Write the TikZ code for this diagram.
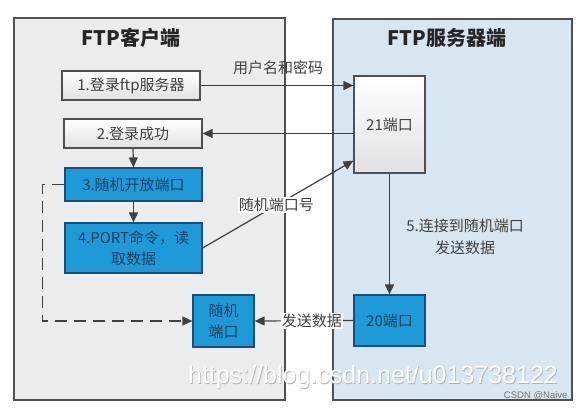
\documentclass[tikz,border=0pt]{standalone}
\usepackage{fontspec}
\setmainfont{Noto Sans CJK SC}
\newfontfamily\wmfont{Liberation Sans}
\usetikzlibrary{arrows.meta,calc}
\definecolor{lpanel}{HTML}{ECECEC}
\definecolor{rpanel}{HTML}{D8E6F2}
\definecolor{bluebox}{HTML}{1E9AD8}
\definecolor{blueedge}{HTML}{1D4E7A}
\definecolor{edge}{HTML}{505050}
\definecolor{txt}{HTML}{404040}
\definecolor{btxt}{HTML}{1F3F5F}
\definecolor{arr}{HTML}{404040}
\tikzset{
  panel/.style={draw=edge,line width=1.3pt},
  whitebox/.style={draw=edge,line width=1.2pt,top color=white,bottom color=white!88!black,
    text=txt,font=\fontsize{15}{18}\selectfont,inner sep=2pt,align=center},
  bluenode/.style={draw=blueedge,line width=1.2pt,fill=bluebox,text=btxt,
    font=\fontsize{15}{21}\selectfont,inner sep=2pt,align=center},
  conn/.style={draw=arr,line width=1.2pt,-{Triangle[length=10pt,width=9pt]}},
  lbl/.style={text=txt,font=\fontsize{15}{22}\selectfont,inner sep=1pt,align=center},
  title/.style={text=black!85,font=\fontsize{20}{23}\selectfont\bfseries}
}
\begin{document}
\begin{tikzpicture}[x=1pt,y=-1pt]
\useasboundingbox (0,0) rectangle (588,408);
\fill[white] (0,0) rectangle (588,408);
% panels
\path[panel,fill=lpanel] (14,18) rectangle (285,400);
\path[panel,fill=rpanel] (333,19) rectangle (572,400);
\node[title] (tl) at (131,38) {FTP客户端};
\node[title] (tr) at (447,38) {FTP服务器端};
% client boxes
\node[whitebox,minimum width=138pt,minimum height=29pt] (b1) at (131,85.5) {1.登录ftp服务器};
\node[whitebox,minimum width=138pt,minimum height=29pt] (b2) at (133,133.5) {2.登录成功};
\node[bluenode,minimum width=137pt,minimum height=33pt] (b3) at (133.5,184.5) {3.随机开放端口};
\node[bluenode,minimum width=137pt,minimum height=50pt] (b4) at (133.5,248) {4.PORT命令，读\\取数据};
\node[bluenode,minimum width=61pt,minimum height=52pt] (rnd) at (223.5,321) {随机\\端口};
% server boxes
\node[whitebox,minimum width=71pt,minimum height=97pt] (p21) at (389.5,124.5) {21端口};
\node[bluenode,minimum width=71pt,minimum height=51pt] (p20) at (389.5,320.5) {20端口};
\coordinate (p21in) at ([yshift=13pt]p21.south west);
% connectors
\draw[conn] (b1.east) -- (b1.east -| p21.west);
\node[lbl] (l1) at (278,68) {用户名和密码};
\draw[conn] (b2.east -| p21.west) -- (b2.east);
\draw[conn] (b2.south) -- (b3.north);
\draw[conn] (b3.south) -- (b4.north);
\draw[conn] (b4.east) -- node[lbl,fill=white,pos=0.49] (l2) {随机端口号} (p21in);
\draw[conn] (p21.south) -- (p20.north);
\node[lbl] (l3) at (465,237) {5.连接到随机端口\\发送数据};
\draw[conn] (p20.west) -- node[lbl,fill=white,pos=0.42] (l4) {发送数据} (rnd.east);
\draw[conn,dash pattern=on 12pt off 7pt] (b3.west) -- ++(-22,0) |- (rnd.west);
% watermark
\node[text=black!30,font=\wmfont\fontsize{25}{25}\selectfont] (wm0) at (373.8,377.8) {https://blog.csdn.net/u013738122};
\node[text=white,font=\wmfont\fontsize{25}{25}\selectfont] (wm) at (373,377) {https://blog.csdn.net/u013738122};
\node[text=black!55,font=\wmfont\fontsize{9.5}{10}\selectfont,anchor=east] (csdn) at (571,396) {CSDN @Naive};
\end{tikzpicture}
\end{document}
